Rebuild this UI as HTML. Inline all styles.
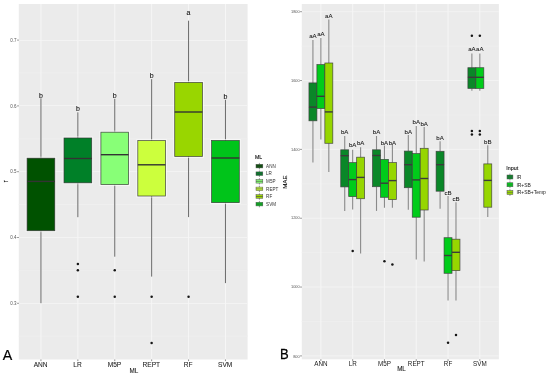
<!DOCTYPE html>
<html><head><meta charset="utf-8"><title>Boxplots</title>
<style>html,body{margin:0;padding:0;background:#fff;} svg{display:block;}</style>
</head><body>
<svg width="550" height="376" viewBox="0 0 550 376" font-family='"Liberation Sans", Arial, sans-serif'>
<rect x="0" y="0" width="550" height="376" fill="#ffffff"/>
<rect x="18.8" y="4" width="228.79999999999998" height="355.5" fill="#EBEBEB"/>
<line x1="18.8" x2="247.6" y1="336.20" y2="336.20" stroke="#efefef" stroke-width="0.8"/>
<line x1="18.8" x2="247.6" y1="270.40" y2="270.40" stroke="#efefef" stroke-width="0.8"/>
<line x1="18.8" x2="247.6" y1="204.60" y2="204.60" stroke="#efefef" stroke-width="0.8"/>
<line x1="18.8" x2="247.6" y1="138.80" y2="138.80" stroke="#efefef" stroke-width="0.8"/>
<line x1="18.8" x2="247.6" y1="73.00" y2="73.00" stroke="#efefef" stroke-width="0.8"/>
<line x1="18.8" x2="247.6" y1="303.50" y2="303.50" stroke="#f3f3f3" stroke-width="1.0"/>
<line x1="18.8" x2="247.6" y1="237.50" y2="237.50" stroke="#f3f3f3" stroke-width="1.0"/>
<line x1="18.8" x2="247.6" y1="171.50" y2="171.50" stroke="#f3f3f3" stroke-width="1.0"/>
<line x1="18.8" x2="247.6" y1="105.50" y2="105.50" stroke="#f3f3f3" stroke-width="1.0"/>
<line x1="18.8" x2="247.6" y1="40.50" y2="40.50" stroke="#f3f3f3" stroke-width="1.0"/>
<line x1="40.94" x2="40.94" y1="4" y2="359.5" stroke="#f6f6f6" stroke-width="1.0"/>
<line x1="77.85" x2="77.85" y1="4" y2="359.5" stroke="#f6f6f6" stroke-width="1.0"/>
<line x1="114.75" x2="114.75" y1="4" y2="359.5" stroke="#f6f6f6" stroke-width="1.0"/>
<line x1="151.65" x2="151.65" y1="4" y2="359.5" stroke="#f6f6f6" stroke-width="1.0"/>
<line x1="188.55" x2="188.55" y1="4" y2="359.5" stroke="#f6f6f6" stroke-width="1.0"/>
<line x1="225.46" x2="225.46" y1="4" y2="359.5" stroke="#f6f6f6" stroke-width="1.0"/>
<line x1="40.94" x2="40.94" y1="98.3" y2="158.2" stroke="#6a6a6a" stroke-width="1.0"/>
<line x1="40.94" x2="40.94" y1="230.7" y2="303.2" stroke="#6a6a6a" stroke-width="1.0"/>
<rect x="26.10" y="157.20" width="29.68" height="74.50" fill="none" stroke="#fbfbfb" stroke-opacity="0.75" stroke-width="0.9"/>
<rect x="27.10" y="158.2" width="27.68" height="72.50" fill="#005200" stroke="#333" stroke-opacity="0.85" stroke-width="0.75"/>
<line x1="27.10" x2="54.78" y1="181.4" y2="181.4" stroke="#333" stroke-width="1.4"/>
<text x="40.94" y="98.0" font-size="7.0" text-anchor="middle" fill="#111" stroke="#111" stroke-width="0.1">b</text>
<line x1="77.85" x2="77.85" y1="112.3" y2="138.0" stroke="#6a6a6a" stroke-width="1.0"/>
<line x1="77.85" x2="77.85" y1="182.8" y2="217.2" stroke="#6a6a6a" stroke-width="1.0"/>
<rect x="63.01" y="137.00" width="29.68" height="46.80" fill="none" stroke="#fbfbfb" stroke-opacity="0.75" stroke-width="0.9"/>
<rect x="64.01" y="138.0" width="27.68" height="44.80" fill="#008028" stroke="#333" stroke-opacity="0.85" stroke-width="0.75"/>
<line x1="64.01" x2="91.68" y1="158.5" y2="158.5" stroke="#333" stroke-width="1.4"/>
<circle cx="77.85" cy="263.9" r="1.25" fill="#151515"/>
<circle cx="77.85" cy="270.3" r="1.25" fill="#151515"/>
<circle cx="77.85" cy="296.7" r="1.25" fill="#151515"/>
<text x="77.85" y="111.10000000000001" font-size="7.0" text-anchor="middle" fill="#111" stroke="#111" stroke-width="0.1">b</text>
<line x1="114.75" x2="114.75" y1="98.8" y2="132.2" stroke="#6a6a6a" stroke-width="1.0"/>
<line x1="114.75" x2="114.75" y1="184.6" y2="256.7" stroke="#6a6a6a" stroke-width="1.0"/>
<rect x="99.91" y="131.20" width="29.68" height="54.40" fill="none" stroke="#fbfbfb" stroke-opacity="0.75" stroke-width="0.9"/>
<rect x="100.91" y="132.2" width="27.68" height="52.40" fill="#88ff77" stroke="#333" stroke-opacity="0.85" stroke-width="0.75"/>
<line x1="100.91" x2="128.59" y1="154.7" y2="154.7" stroke="#333" stroke-width="1.4"/>
<circle cx="114.75" cy="270.3" r="1.25" fill="#151515"/>
<circle cx="114.75" cy="296.7" r="1.25" fill="#151515"/>
<text x="114.75" y="97.60000000000001" font-size="7.0" text-anchor="middle" fill="#111" stroke="#111" stroke-width="0.1">b</text>
<line x1="151.65" x2="151.65" y1="79.1" y2="140.6" stroke="#6a6a6a" stroke-width="1.0"/>
<line x1="151.65" x2="151.65" y1="196.0" y2="276.6" stroke="#6a6a6a" stroke-width="1.0"/>
<rect x="136.81" y="139.60" width="29.68" height="57.40" fill="none" stroke="#fbfbfb" stroke-opacity="0.75" stroke-width="0.9"/>
<rect x="137.81" y="140.6" width="27.68" height="55.40" fill="#ccff3d" stroke="#333" stroke-opacity="0.85" stroke-width="0.75"/>
<line x1="137.81" x2="165.49" y1="164.8" y2="164.8" stroke="#333" stroke-width="1.4"/>
<circle cx="151.65" cy="296.8" r="1.25" fill="#151515"/>
<circle cx="151.65" cy="343.1" r="1.25" fill="#151515"/>
<text x="151.65" y="77.7" font-size="7.0" text-anchor="middle" fill="#111" stroke="#111" stroke-width="0.1">b</text>
<line x1="188.55" x2="188.55" y1="20.7" y2="82.5" stroke="#6a6a6a" stroke-width="1.0"/>
<line x1="188.55" x2="188.55" y1="156.4" y2="217.1" stroke="#6a6a6a" stroke-width="1.0"/>
<rect x="173.72" y="81.50" width="29.68" height="75.90" fill="none" stroke="#fbfbfb" stroke-opacity="0.75" stroke-width="0.9"/>
<rect x="174.72" y="82.5" width="27.68" height="73.90" fill="#99d600" stroke="#333" stroke-opacity="0.85" stroke-width="0.75"/>
<line x1="174.72" x2="202.39" y1="112.0" y2="112.0" stroke="#333" stroke-width="1.4"/>
<circle cx="188.55" cy="296.8" r="1.25" fill="#151515"/>
<text x="188.55" y="15.1" font-size="7.0" text-anchor="middle" fill="#111" stroke="#111" stroke-width="0.1">a</text>
<line x1="225.46" x2="225.46" y1="99.8" y2="140.5" stroke="#6a6a6a" stroke-width="1.0"/>
<line x1="225.46" x2="225.46" y1="202.6" y2="283.1" stroke="#6a6a6a" stroke-width="1.0"/>
<rect x="210.62" y="139.50" width="29.68" height="64.10" fill="none" stroke="#fbfbfb" stroke-opacity="0.75" stroke-width="0.9"/>
<rect x="211.62" y="140.5" width="27.68" height="62.10" fill="#00c41a" stroke="#333" stroke-opacity="0.85" stroke-width="0.75"/>
<line x1="211.62" x2="239.30" y1="158.0" y2="158.0" stroke="#333" stroke-width="1.4"/>
<text x="225.46" y="98.9" font-size="7.0" text-anchor="middle" fill="#111" stroke="#111" stroke-width="0.1">b</text>
<rect x="301.8" y="4" width="197.09999999999997" height="355.3" fill="#EBEBEB"/>
<line x1="301.8" x2="498.9" y1="321.48" y2="321.48" stroke="#efefef" stroke-width="0.8"/>
<line x1="301.8" x2="498.9" y1="252.64" y2="252.64" stroke="#efefef" stroke-width="0.8"/>
<line x1="301.8" x2="498.9" y1="183.80" y2="183.80" stroke="#efefef" stroke-width="0.8"/>
<line x1="301.8" x2="498.9" y1="114.96" y2="114.96" stroke="#efefef" stroke-width="0.8"/>
<line x1="301.8" x2="498.9" y1="46.12" y2="46.12" stroke="#efefef" stroke-width="0.8"/>
<line x1="301.8" x2="498.9" y1="355.90" y2="355.90" stroke="#f3f3f3" stroke-width="1.0"/>
<line x1="301.8" x2="498.9" y1="287.06" y2="287.06" stroke="#f3f3f3" stroke-width="1.0"/>
<line x1="301.8" x2="498.9" y1="218.22" y2="218.22" stroke="#f3f3f3" stroke-width="1.0"/>
<line x1="301.8" x2="498.9" y1="149.38" y2="149.38" stroke="#f3f3f3" stroke-width="1.0"/>
<line x1="301.8" x2="498.9" y1="80.54" y2="80.54" stroke="#f3f3f3" stroke-width="1.0"/>
<line x1="301.8" x2="498.9" y1="11.70" y2="11.70" stroke="#f3f3f3" stroke-width="1.0"/>
<line x1="320.87" x2="320.87" y1="4" y2="359.3" stroke="#f6f6f6" stroke-width="1.0"/>
<line x1="352.66" x2="352.66" y1="4" y2="359.3" stroke="#f6f6f6" stroke-width="1.0"/>
<line x1="384.45" x2="384.45" y1="4" y2="359.3" stroke="#f6f6f6" stroke-width="1.0"/>
<line x1="416.25" x2="416.25" y1="4" y2="359.3" stroke="#f6f6f6" stroke-width="1.0"/>
<line x1="448.04" x2="448.04" y1="4" y2="359.3" stroke="#f6f6f6" stroke-width="1.0"/>
<line x1="479.83" x2="479.83" y1="4" y2="359.3" stroke="#f6f6f6" stroke-width="1.0"/>
<line x1="312.93" x2="312.93" y1="39.9" y2="82.9" stroke="#8a8a8a" stroke-width="1.1"/>
<line x1="312.93" x2="312.93" y1="120.8" y2="162.5" stroke="#8a8a8a" stroke-width="1.1"/>
<rect x="308.95" y="82.9" width="7.95" height="37.90" fill="#0a8728" stroke="#3a3a3a" stroke-opacity="0.85" stroke-width="0.75"/>
<line x1="308.95" x2="316.90" y1="107.1" y2="107.1" stroke="#3a3a3a" stroke-width="1.4"/>
<text x="312.93" y="38.2" font-size="6.1" text-anchor="middle" fill="#111" stroke="#111" stroke-width="0.05">aA</text>
<line x1="320.87" x2="320.87" y1="37.9" y2="64.6" stroke="#8a8a8a" stroke-width="1.1"/>
<line x1="320.87" x2="320.87" y1="108.5" y2="139.4" stroke="#8a8a8a" stroke-width="1.1"/>
<rect x="316.90" y="64.6" width="7.95" height="43.90" fill="#00cc1a" stroke="#3a3a3a" stroke-opacity="0.85" stroke-width="0.75"/>
<line x1="316.90" x2="324.85" y1="96.3" y2="96.3" stroke="#3a3a3a" stroke-width="1.4"/>
<text x="320.87" y="35.9" font-size="6.1" text-anchor="middle" fill="#111" stroke="#111" stroke-width="0.05">aA</text>
<line x1="328.82" x2="328.82" y1="19.6" y2="63.0" stroke="#8a8a8a" stroke-width="1.1"/>
<line x1="328.82" x2="328.82" y1="143.3" y2="171.9" stroke="#8a8a8a" stroke-width="1.1"/>
<rect x="324.85" y="63.0" width="7.95" height="80.30" fill="#96d600" stroke="#3a3a3a" stroke-opacity="0.85" stroke-width="0.75"/>
<line x1="324.85" x2="332.80" y1="111.9" y2="111.9" stroke="#3a3a3a" stroke-width="1.4"/>
<text x="328.82" y="18.0" font-size="6.1" text-anchor="middle" fill="#111" stroke="#111" stroke-width="0.05">aA</text>
<line x1="344.72" x2="344.72" y1="136.0" y2="149.8" stroke="#8a8a8a" stroke-width="1.1"/>
<line x1="344.72" x2="344.72" y1="186.9" y2="210.9" stroke="#8a8a8a" stroke-width="1.1"/>
<rect x="340.74" y="149.8" width="7.95" height="37.10" fill="#0a8728" stroke="#3a3a3a" stroke-opacity="0.85" stroke-width="0.75"/>
<line x1="340.74" x2="348.69" y1="155.7" y2="155.7" stroke="#3a3a3a" stroke-width="1.4"/>
<text x="344.72" y="133.8" font-size="6.1" text-anchor="middle" fill="#111" stroke="#111" stroke-width="0.05">bA</text>
<line x1="352.66" x2="352.66" y1="149.8" y2="162.6" stroke="#8a8a8a" stroke-width="1.1"/>
<line x1="352.66" x2="352.66" y1="196.6" y2="209.4" stroke="#8a8a8a" stroke-width="1.1"/>
<rect x="348.69" y="162.6" width="7.95" height="34.00" fill="#00cc1a" stroke="#3a3a3a" stroke-opacity="0.85" stroke-width="0.75"/>
<line x1="348.69" x2="356.64" y1="179.6" y2="179.6" stroke="#3a3a3a" stroke-width="1.4"/>
<circle cx="352.66" cy="250.9" r="1.25" fill="#151515"/>
<text x="352.66" y="147.2" font-size="6.1" text-anchor="middle" fill="#111" stroke="#111" stroke-width="0.05">bA</text>
<line x1="360.61" x2="360.61" y1="147.2" y2="157.2" stroke="#8a8a8a" stroke-width="1.1"/>
<line x1="360.61" x2="360.61" y1="198.7" y2="253.4" stroke="#8a8a8a" stroke-width="1.1"/>
<rect x="356.64" y="157.2" width="7.95" height="41.50" fill="#96d600" stroke="#3a3a3a" stroke-opacity="0.85" stroke-width="0.75"/>
<line x1="356.64" x2="364.59" y1="177.4" y2="177.4" stroke="#3a3a3a" stroke-width="1.4"/>
<text x="360.61" y="145.1" font-size="6.1" text-anchor="middle" fill="#111" stroke="#111" stroke-width="0.05">bA</text>
<line x1="376.51" x2="376.51" y1="136.0" y2="149.8" stroke="#8a8a8a" stroke-width="1.1"/>
<line x1="376.51" x2="376.51" y1="186.7" y2="210.9" stroke="#8a8a8a" stroke-width="1.1"/>
<rect x="372.53" y="149.8" width="7.95" height="36.90" fill="#0a8728" stroke="#3a3a3a" stroke-opacity="0.85" stroke-width="0.75"/>
<line x1="372.53" x2="380.48" y1="155.5" y2="155.5" stroke="#3a3a3a" stroke-width="1.4"/>
<text x="376.51" y="133.8" font-size="6.1" text-anchor="middle" fill="#111" stroke="#111" stroke-width="0.05">bA</text>
<line x1="384.45" x2="384.45" y1="145.5" y2="159.4" stroke="#8a8a8a" stroke-width="1.1"/>
<line x1="384.45" x2="384.45" y1="197.3" y2="207.7" stroke="#8a8a8a" stroke-width="1.1"/>
<rect x="380.48" y="159.4" width="7.95" height="37.90" fill="#00cc1a" stroke="#3a3a3a" stroke-opacity="0.85" stroke-width="0.75"/>
<line x1="380.48" x2="388.43" y1="183.2" y2="183.2" stroke="#3a3a3a" stroke-width="1.4"/>
<circle cx="384.45" cy="261.3" r="1.25" fill="#151515"/>
<text x="384.45" y="145.0" font-size="6.1" text-anchor="middle" fill="#111" stroke="#111" stroke-width="0.05">bA</text>
<line x1="392.40" x2="392.40" y1="145.1" y2="162.6" stroke="#8a8a8a" stroke-width="1.1"/>
<line x1="392.40" x2="392.40" y1="199.6" y2="207.7" stroke="#8a8a8a" stroke-width="1.1"/>
<rect x="388.43" y="162.6" width="7.95" height="37.00" fill="#96d600" stroke="#3a3a3a" stroke-opacity="0.85" stroke-width="0.75"/>
<line x1="388.43" x2="396.38" y1="180.6" y2="180.6" stroke="#3a3a3a" stroke-width="1.4"/>
<circle cx="392.40" cy="264.5" r="1.25" fill="#151515"/>
<text x="392.40" y="145.0" font-size="6.1" text-anchor="middle" fill="#111" stroke="#111" stroke-width="0.05">bA</text>
<line x1="408.30" x2="408.30" y1="135.1" y2="151.1" stroke="#8a8a8a" stroke-width="1.1"/>
<line x1="408.30" x2="408.30" y1="187.7" y2="209.8" stroke="#8a8a8a" stroke-width="1.1"/>
<rect x="404.32" y="151.1" width="7.95" height="36.60" fill="#0a8728" stroke="#3a3a3a" stroke-opacity="0.85" stroke-width="0.75"/>
<line x1="404.32" x2="412.27" y1="164.7" y2="164.7" stroke="#3a3a3a" stroke-width="1.4"/>
<text x="408.30" y="133.8" font-size="6.1" text-anchor="middle" fill="#111" stroke="#111" stroke-width="0.05">bA</text>
<line x1="416.25" x2="416.25" y1="126.0" y2="153.6" stroke="#8a8a8a" stroke-width="1.1"/>
<line x1="416.25" x2="416.25" y1="217.2" y2="259.5" stroke="#8a8a8a" stroke-width="1.1"/>
<rect x="412.27" y="153.6" width="7.95" height="63.60" fill="#00cc1a" stroke="#3a3a3a" stroke-opacity="0.85" stroke-width="0.75"/>
<line x1="412.27" x2="420.22" y1="179.9" y2="179.9" stroke="#3a3a3a" stroke-width="1.4"/>
<text x="416.25" y="124.3" font-size="6.1" text-anchor="middle" fill="#111" stroke="#111" stroke-width="0.05">bA</text>
<line x1="424.19" x2="424.19" y1="127.0" y2="148.3" stroke="#8a8a8a" stroke-width="1.1"/>
<line x1="424.19" x2="424.19" y1="210.0" y2="261.5" stroke="#8a8a8a" stroke-width="1.1"/>
<rect x="420.22" y="148.3" width="7.95" height="61.70" fill="#96d600" stroke="#3a3a3a" stroke-opacity="0.85" stroke-width="0.75"/>
<line x1="420.22" x2="428.17" y1="178.5" y2="178.5" stroke="#3a3a3a" stroke-width="1.4"/>
<text x="424.19" y="125.5" font-size="6.1" text-anchor="middle" fill="#111" stroke="#111" stroke-width="0.05">bA</text>
<line x1="440.09" x2="440.09" y1="141.3" y2="151.3" stroke="#8a8a8a" stroke-width="1.1"/>
<line x1="440.09" x2="440.09" y1="191.2" y2="208.7" stroke="#8a8a8a" stroke-width="1.1"/>
<rect x="436.11" y="151.3" width="7.95" height="39.90" fill="#0a8728" stroke="#3a3a3a" stroke-opacity="0.85" stroke-width="0.75"/>
<line x1="436.11" x2="444.06" y1="164.7" y2="164.7" stroke="#3a3a3a" stroke-width="1.4"/>
<text x="440.09" y="139.8" font-size="6.1" text-anchor="middle" fill="#111" stroke="#111" stroke-width="0.05">bA</text>
<line x1="448.04" x2="448.04" y1="196.0" y2="237.7" stroke="#8a8a8a" stroke-width="1.1"/>
<line x1="448.04" x2="448.04" y1="273.3" y2="300.4" stroke="#8a8a8a" stroke-width="1.1"/>
<rect x="444.06" y="237.7" width="7.95" height="35.60" fill="#00cc1a" stroke="#3a3a3a" stroke-opacity="0.85" stroke-width="0.75"/>
<line x1="444.06" x2="452.01" y1="255.5" y2="255.5" stroke="#3a3a3a" stroke-width="1.4"/>
<circle cx="448.04" cy="342.8" r="1.25" fill="#151515"/>
<text x="448.04" y="194.5" font-size="6.1" text-anchor="middle" fill="#111" stroke="#111" stroke-width="0.05">cB</text>
<line x1="455.98" x2="455.98" y1="202.3" y2="239.2" stroke="#8a8a8a" stroke-width="1.1"/>
<line x1="455.98" x2="455.98" y1="270.6" y2="300.4" stroke="#8a8a8a" stroke-width="1.1"/>
<rect x="452.01" y="239.2" width="7.95" height="31.40" fill="#96d600" stroke="#3a3a3a" stroke-opacity="0.85" stroke-width="0.75"/>
<line x1="452.01" x2="459.96" y1="252.3" y2="252.3" stroke="#3a3a3a" stroke-width="1.4"/>
<circle cx="455.98" cy="334.9" r="1.25" fill="#151515"/>
<text x="455.98" y="200.6" font-size="6.1" text-anchor="middle" fill="#111" stroke="#111" stroke-width="0.05">cB</text>
<line x1="471.88" x2="471.88" y1="53.6" y2="67.7" stroke="#8a8a8a" stroke-width="1.1"/>
<line x1="471.88" x2="471.88" y1="88.4" y2="90.7" stroke="#8a8a8a" stroke-width="1.1"/>
<rect x="467.90" y="67.7" width="7.95" height="20.70" fill="#0a8728" stroke="#3a3a3a" stroke-opacity="0.85" stroke-width="0.75"/>
<line x1="467.90" x2="475.85" y1="77.3" y2="77.3" stroke="#3a3a3a" stroke-width="1.4"/>
<circle cx="471.88" cy="35.8" r="1.25" fill="#151515"/>
<circle cx="471.88" cy="131.0" r="1.25" fill="#151515"/>
<circle cx="471.88" cy="134.5" r="1.25" fill="#151515"/>
<text x="471.88" y="51.3" font-size="6.1" text-anchor="middle" fill="#111" stroke="#111" stroke-width="0.05">aA</text>
<line x1="479.83" x2="479.83" y1="53.6" y2="67.7" stroke="#8a8a8a" stroke-width="1.1"/>
<line x1="479.83" x2="479.83" y1="88.4" y2="90.7" stroke="#8a8a8a" stroke-width="1.1"/>
<rect x="475.85" y="67.7" width="7.95" height="20.70" fill="#00cc1a" stroke="#3a3a3a" stroke-opacity="0.85" stroke-width="0.75"/>
<line x1="475.85" x2="483.80" y1="77.3" y2="77.3" stroke="#3a3a3a" stroke-width="1.4"/>
<circle cx="479.83" cy="35.8" r="1.25" fill="#151515"/>
<circle cx="479.83" cy="131.0" r="1.25" fill="#151515"/>
<circle cx="479.83" cy="134.5" r="1.25" fill="#151515"/>
<text x="479.83" y="51.3" font-size="6.1" text-anchor="middle" fill="#111" stroke="#111" stroke-width="0.05">aA</text>
<line x1="487.77" x2="487.77" y1="145.3" y2="163.9" stroke="#8a8a8a" stroke-width="1.1"/>
<line x1="487.77" x2="487.77" y1="207.2" y2="217.1" stroke="#8a8a8a" stroke-width="1.1"/>
<rect x="483.80" y="163.9" width="7.95" height="43.30" fill="#96d600" stroke="#3a3a3a" stroke-opacity="0.85" stroke-width="0.75"/>
<line x1="483.80" x2="491.75" y1="180.4" y2="180.4" stroke="#3a3a3a" stroke-width="1.4"/>
<text x="487.77" y="143.5" font-size="6.1" text-anchor="middle" fill="#111" stroke="#111" stroke-width="0.05">bB</text>
<line x1="17.2" x2="18.8" y1="303.30" y2="303.30" stroke="#555" stroke-width="0.7"/>
<text x="16.6" y="304.90" font-size="4.5" text-anchor="end" fill="#555">0.3</text>
<line x1="17.2" x2="18.8" y1="237.50" y2="237.50" stroke="#555" stroke-width="0.7"/>
<text x="16.6" y="239.10" font-size="4.5" text-anchor="end" fill="#555">0.4</text>
<line x1="17.2" x2="18.8" y1="171.70" y2="171.70" stroke="#555" stroke-width="0.7"/>
<text x="16.6" y="173.30" font-size="4.5" text-anchor="end" fill="#555">0.5</text>
<line x1="17.2" x2="18.8" y1="105.90" y2="105.90" stroke="#555" stroke-width="0.7"/>
<text x="16.6" y="107.50" font-size="4.5" text-anchor="end" fill="#555">0.6</text>
<line x1="17.2" x2="18.8" y1="40.10" y2="40.10" stroke="#555" stroke-width="0.7"/>
<text x="16.6" y="41.70" font-size="4.5" text-anchor="end" fill="#555">0.7</text>
<line x1="40.94" x2="40.94" y1="359.5" y2="361.1" stroke="#555" stroke-width="0.7"/>
<text x="40.64" y="366.5" font-size="6.6" text-anchor="middle" fill="#1a1a1a" stroke="#1a1a1a" stroke-width="0.06">ANN</text>
<line x1="77.85" x2="77.85" y1="359.5" y2="361.1" stroke="#555" stroke-width="0.7"/>
<text x="77.55" y="366.5" font-size="6.6" text-anchor="middle" fill="#1a1a1a" stroke="#1a1a1a" stroke-width="0.06">LR</text>
<line x1="114.75" x2="114.75" y1="359.5" y2="361.1" stroke="#555" stroke-width="0.7"/>
<text x="114.45" y="366.5" font-size="6.6" text-anchor="middle" fill="#1a1a1a" stroke="#1a1a1a" stroke-width="0.06">M5P</text>
<line x1="151.65" x2="151.65" y1="359.5" y2="361.1" stroke="#555" stroke-width="0.7"/>
<text x="151.35" y="366.5" font-size="6.6" text-anchor="middle" fill="#1a1a1a" stroke="#1a1a1a" stroke-width="0.06">REPT</text>
<line x1="188.55" x2="188.55" y1="359.5" y2="361.1" stroke="#555" stroke-width="0.7"/>
<text x="188.25" y="366.5" font-size="6.6" text-anchor="middle" fill="#1a1a1a" stroke="#1a1a1a" stroke-width="0.06">RF</text>
<line x1="225.46" x2="225.46" y1="359.5" y2="361.1" stroke="#555" stroke-width="0.7"/>
<text x="225.16" y="366.5" font-size="6.6" text-anchor="middle" fill="#1a1a1a" stroke="#1a1a1a" stroke-width="0.06">SVM</text>
<text x="133.9" y="372.7" font-size="6.3" text-anchor="middle" fill="#222" stroke="#222" stroke-width="0.1">ML</text>
<text transform="translate(8.3,181.3) rotate(-90)" font-size="6.6" text-anchor="middle" fill="#111" stroke="#111" stroke-width="0.15">r</text>
<text transform="translate(2.8,359.5) scale(0.93,1)" font-size="15.3" fill="#000" stroke="#000" stroke-width="0.2">A</text>
<text x="254.9" y="159.4" font-size="5.2" fill="#111" stroke="#111" stroke-width="0.12">ML</text>
<line x1="259.4" x2="259.4" y1="162.90" y2="169.30" stroke="#555" stroke-width="0.6"/>
<rect x="256" y="164.30" width="6.8" height="3.6" fill="#005200" stroke="#555" stroke-width="0.5"/>
<line x1="256" x2="262.8" y1="166.10" y2="166.10" stroke="#444" stroke-width="0.6"/>
<text x="266.1" y="167.70" font-size="4.55" fill="#333">ANN</text>
<line x1="259.4" x2="259.4" y1="170.50" y2="176.90" stroke="#555" stroke-width="0.6"/>
<rect x="256" y="171.90" width="6.8" height="3.6" fill="#008028" stroke="#555" stroke-width="0.5"/>
<line x1="256" x2="262.8" y1="173.70" y2="173.70" stroke="#444" stroke-width="0.6"/>
<text x="266.1" y="175.30" font-size="4.55" fill="#333">LR</text>
<line x1="259.4" x2="259.4" y1="178.10" y2="184.50" stroke="#555" stroke-width="0.6"/>
<rect x="256" y="179.50" width="6.8" height="3.6" fill="#88ff77" stroke="#555" stroke-width="0.5"/>
<line x1="256" x2="262.8" y1="181.30" y2="181.30" stroke="#444" stroke-width="0.6"/>
<text x="266.1" y="182.90" font-size="4.55" fill="#333">M5P</text>
<line x1="259.4" x2="259.4" y1="185.70" y2="192.10" stroke="#555" stroke-width="0.6"/>
<rect x="256" y="187.10" width="6.8" height="3.6" fill="#ccff3d" stroke="#555" stroke-width="0.5"/>
<line x1="256" x2="262.8" y1="188.90" y2="188.90" stroke="#444" stroke-width="0.6"/>
<text x="266.1" y="190.50" font-size="4.55" fill="#333">REPT</text>
<line x1="259.4" x2="259.4" y1="193.30" y2="199.70" stroke="#555" stroke-width="0.6"/>
<rect x="256" y="194.70" width="6.8" height="3.6" fill="#99d600" stroke="#555" stroke-width="0.5"/>
<line x1="256" x2="262.8" y1="196.50" y2="196.50" stroke="#444" stroke-width="0.6"/>
<text x="266.1" y="198.10" font-size="4.55" fill="#333">RF</text>
<line x1="259.4" x2="259.4" y1="200.90" y2="207.30" stroke="#555" stroke-width="0.6"/>
<rect x="256" y="202.30" width="6.8" height="3.6" fill="#00c41a" stroke="#555" stroke-width="0.5"/>
<line x1="256" x2="262.8" y1="204.10" y2="204.10" stroke="#444" stroke-width="0.6"/>
<text x="266.1" y="205.70" font-size="4.55" fill="#333">SVM</text>
<line x1="300.2" x2="301.8" y1="355.90" y2="355.90" stroke="#555" stroke-width="0.7"/>
<text x="299.7" y="357.90" font-size="3.9" text-anchor="end" fill="#555">800</text>
<line x1="300.2" x2="301.8" y1="287.06" y2="287.06" stroke="#555" stroke-width="0.7"/>
<text x="299.7" y="287.90" font-size="3.9" text-anchor="end" fill="#555">1000</text>
<line x1="300.2" x2="301.8" y1="218.22" y2="218.22" stroke="#555" stroke-width="0.7"/>
<text x="299.7" y="218.60" font-size="3.9" text-anchor="end" fill="#555">1200</text>
<line x1="300.2" x2="301.8" y1="149.38" y2="149.38" stroke="#555" stroke-width="0.7"/>
<text x="299.7" y="150.80" font-size="3.9" text-anchor="end" fill="#555">1400</text>
<line x1="300.2" x2="301.8" y1="80.54" y2="80.54" stroke="#555" stroke-width="0.7"/>
<text x="299.7" y="81.60" font-size="3.9" text-anchor="end" fill="#555">1600</text>
<line x1="300.2" x2="301.8" y1="11.70" y2="11.70" stroke="#555" stroke-width="0.7"/>
<text x="299.7" y="13.20" font-size="3.9" text-anchor="end" fill="#555">1800</text>
<line x1="320.87" x2="320.87" y1="359.3" y2="360.90000000000003" stroke="#555" stroke-width="0.7"/>
<text x="320.87" y="365.7" font-size="6.3" text-anchor="middle" fill="#222">ANN</text>
<line x1="352.66" x2="352.66" y1="359.3" y2="360.90000000000003" stroke="#555" stroke-width="0.7"/>
<text x="352.66" y="365.7" font-size="6.3" text-anchor="middle" fill="#222">LR</text>
<line x1="384.45" x2="384.45" y1="359.3" y2="360.90000000000003" stroke="#555" stroke-width="0.7"/>
<text x="384.45" y="365.7" font-size="6.3" text-anchor="middle" fill="#222">M5P</text>
<line x1="416.25" x2="416.25" y1="359.3" y2="360.90000000000003" stroke="#555" stroke-width="0.7"/>
<text x="416.25" y="365.7" font-size="6.3" text-anchor="middle" fill="#222">REPT</text>
<line x1="448.04" x2="448.04" y1="359.3" y2="360.90000000000003" stroke="#555" stroke-width="0.7"/>
<text x="448.04" y="365.7" font-size="6.3" text-anchor="middle" fill="#222">RF</text>
<line x1="479.83" x2="479.83" y1="359.3" y2="360.90000000000003" stroke="#555" stroke-width="0.7"/>
<text x="479.83" y="365.7" font-size="6.3" text-anchor="middle" fill="#222">SVM</text>
<text x="401.5" y="370.9" font-size="6.3" text-anchor="middle" fill="#222" stroke="#222" stroke-width="0.1">ML</text>
<text transform="translate(287.0,182.1) rotate(-90)" font-size="6.2" text-anchor="middle" fill="#111" stroke="#111" stroke-width="0.08">MAE</text>
<text transform="translate(279.9,359.4) scale(0.86,1)" font-size="15.2" fill="#000" stroke="#000" stroke-width="0.25">B</text>
<text x="506.3" y="170.0" font-size="5.4" fill="#111" stroke="#111" stroke-width="0.1">Input</text>
<line x1="509.95" x2="509.95" y1="173.60" y2="180.40" stroke="#555" stroke-width="0.6"/>
<rect x="507" y="175.00" width="5.9" height="4.0" fill="#0a8728" stroke="#555" stroke-width="0.5"/>
<line x1="507" x2="512.9" y1="177.00" y2="177.00" stroke="#555" stroke-width="0.45"/>
<text x="516.4" y="178.80" font-size="4.95" fill="#222">IR</text>
<line x1="509.95" x2="509.95" y1="181.35" y2="188.15" stroke="#555" stroke-width="0.6"/>
<rect x="507" y="182.75" width="5.9" height="4.0" fill="#00cc1a" stroke="#555" stroke-width="0.5"/>
<line x1="507" x2="512.9" y1="184.75" y2="184.75" stroke="#555" stroke-width="0.45"/>
<text x="516.4" y="186.55" font-size="4.95" fill="#222">IR+SB</text>
<line x1="509.95" x2="509.95" y1="189.10" y2="195.90" stroke="#555" stroke-width="0.6"/>
<rect x="507" y="190.50" width="5.9" height="4.0" fill="#96d600" stroke="#555" stroke-width="0.5"/>
<line x1="507" x2="512.9" y1="192.50" y2="192.50" stroke="#555" stroke-width="0.45"/>
<text x="516.4" y="194.30" font-size="4.95" fill="#222">IR+SB+Temp</text>
</svg>
</body></html>
